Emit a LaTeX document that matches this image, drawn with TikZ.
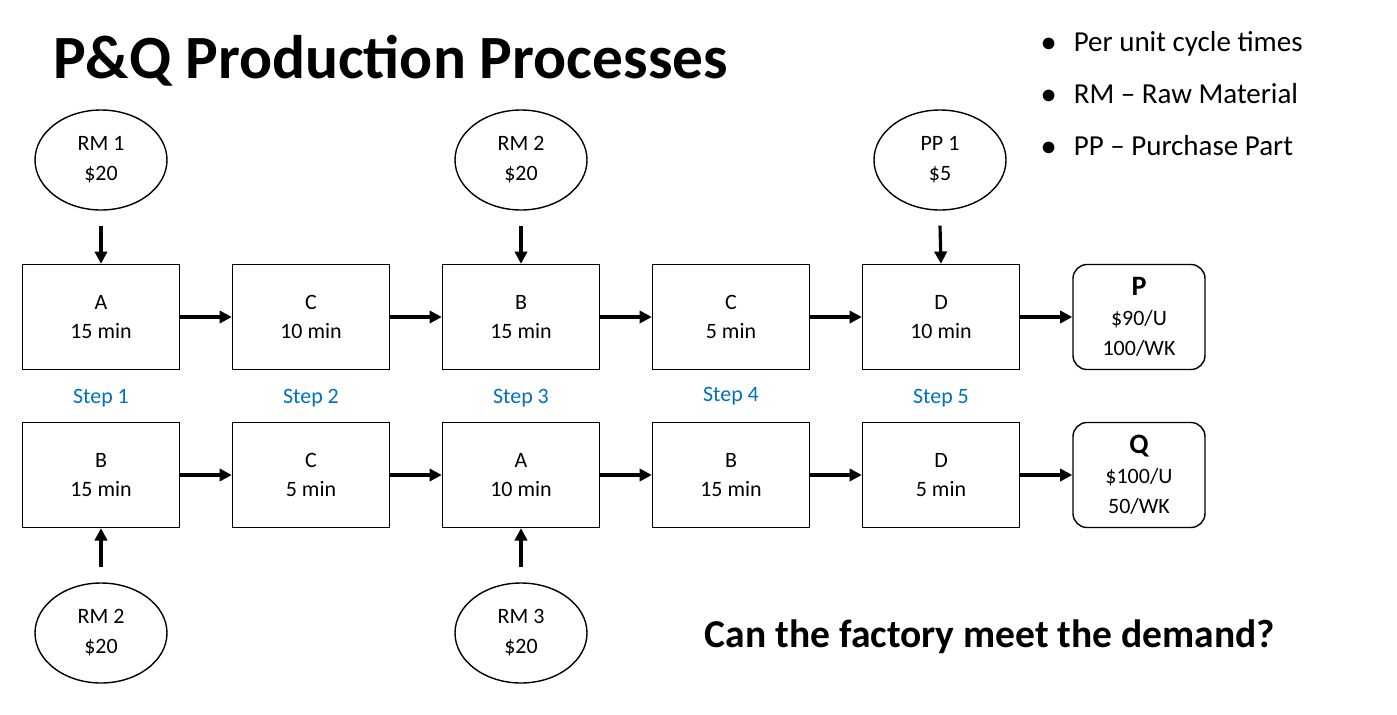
\documentclass[tikz,border=0pt]{standalone}
\usepackage{fontspec}
\setmainfont{Carlito}
\usetikzlibrary{arrows.meta,shapes.geometric}
\definecolor{stepblue}{RGB}{0,112,192}
\begin{document}
\begin{tikzpicture}[x=0.02cm,y=-0.02cm,
 box/.style={draw,line width=0.8pt,minimum width=157*0.02cm,minimum height=105*0.02cm,align=center,font=\fontsize{12.5}{17}\selectfont,inner sep=0pt},
 prod/.style={box,rounded corners=8pt,minimum width=132*0.02cm},
 src/.style={draw,ellipse,line width=0.8pt,minimum width=132*0.02cm,minimum height=100*0.02cm,align=center,font=\fontsize{12.5}{17}\selectfont,inner sep=0pt},
 arr/.style={line width=1.8pt,-{Triangle[length=7pt,width=7pt]}},
 steplbl/.style={text=stepblue,font=\fontsize{12.5}{15}\selectfont}]
\useasboundingbox (0,0) rectangle (1397,714);
\node[anchor=base west,font=\fontsize{35}{40}\bfseries\selectfont] (title) at (47,78) {P\&Q Production Processes};
\node[anchor=north west,align=left,font=\fontsize{16.5}{29.5}\selectfont] (notes) at (1035,25) {$\bullet$\hspace{0.6em}Per unit cycle times\\ $\bullet$\hspace{0.6em}RM -- Raw Material\\ $\bullet$\hspace{0.6em}PP -- Purchase Part};
\node[font=\fontsize{22.5}{26}\bfseries\selectfont] (q) at (990,637) {Can the factory meet the demand?};
% row 1
\node[box] (a1) at (101,317) {A\\15 min};
\node[box] (a2) at (311,317) {C\\10 min};
\node[box] (a3) at (521,317) {B\\15 min};
\node[box] (a4) at (731,317) {C\\5 min};
\node[box] (a5) at (941,317) {D\\10 min};
\node[prod] (p) at (1139,317) {{\fontsize{16}{18}\bfseries\selectfont P}\\\$90/U\\100/WK};
% row 2
\node[box] (b1) at (101,475) {B\\15 min};
\node[box] (b2) at (311,475) {C\\5 min};
\node[box] (b3) at (521,475) {A\\10 min};
\node[box] (b4) at (731,475) {B\\15 min};
\node[box] (b5) at (941,475) {D\\5 min};
\node[prod] (qq) at (1139,475) {{\fontsize{16}{18}\bfseries\selectfont Q}\\\$100/U\\50/WK};
% steps
\node[steplbl] (s1) at (101,398) {Step 1};
\node[steplbl] (s2) at (311,398) {Step 2};
\node[steplbl] (s3) at (521,398) {Step 3};
\node[steplbl] (s4) at (731,396) {Step 4};
\node[steplbl] (s5) at (941,398) {Step 5};
% sources
\node[src] (r1) at (101,160) {RM 1\\\$20};
\node[src] (r2) at (521,160) {RM 2\\\$20};
\node[src] (pp) at (940,160) {PP 1\\\$5};
\node[src] (r2b) at (101,633) {RM 2\\\$20};
\node[src] (r3) at (521,633) {RM 3\\\$20};
% arrows
\draw[arr] (a1.east) -- (a2.west);
\draw[arr] (a2.east) -- (a3.west);
\draw[arr] (a3.east) -- (a4.west);
\draw[arr] (a4.east) -- (a5.west);
\draw[arr] (a5.east) -- (p.west);
\draw[arr] (b1.east) -- (b2.west);
\draw[arr] (b2.east) -- (b3.west);
\draw[arr] (b3.east) -- (b4.west);
\draw[arr] (b4.east) -- (b5.west);
\draw[arr] (b5.east) -- (qq.west);
\draw[arr] ([yshift=-0.3cm]r1.south) -- (a1.north);
\draw[arr] ([yshift=-0.3cm]r2.south) -- (a3.north);
\draw[arr] ([yshift=-0.3cm]pp.south) -- (a5.north);
\draw[arr] ([yshift=0.3cm]r2b.north) -- (b1.south);
\draw[arr] ([yshift=0.3cm]r3.north) -- (b3.south);
\end{tikzpicture}
\end{document}
